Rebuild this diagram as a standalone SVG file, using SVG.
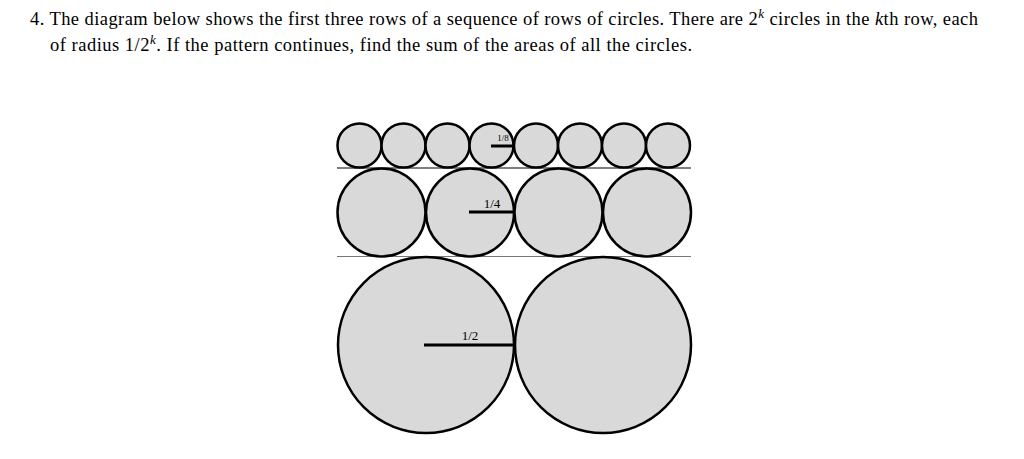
<svg xmlns="http://www.w3.org/2000/svg" width="1024" height="459" viewBox="0 0 1024 459">
<style>
.c{fill:#d9d9d9;stroke:#000;stroke-width:2.5}
.t{font-family:"Liberation Serif",serif;font-size:18.5px;fill:#000}
.l{font-family:"Liberation Serif",serif;fill:#000}
.r{stroke:#000;stroke-width:3}
</style>
<rect width="1024" height="459" fill="#fff"/>
<text class="t" x="30" y="25" textLength="948" lengthAdjust="spacing">4. The diagram below shows the first three rows of a sequence of rows of circles. There are 2<tspan dy="-7" font-size="13" font-style="italic">k</tspan><tspan dy="7"> circles in the </tspan><tspan font-style="italic">k</tspan>th row, each</text>
<text class="t" x="50" y="51" textLength="642" lengthAdjust="spacing">of radius 1/2<tspan dy="-7" font-size="13" font-style="italic">k</tspan><tspan dy="7">. If the pattern continues, find the sum of the areas of all the circles.</tspan></text>
<g id="lines">
<line x1="337" y1="168" x2="691" y2="168" stroke="#000" stroke-width="1.2"/>
<line x1="337" y1="256.5" x2="691" y2="256.5" stroke="#777" stroke-width="1.2"/>
</g>
<g id="row3">
<circle class="c" cx="359.5" cy="145.5" r="22"/><circle class="c" cx="403.5" cy="145.5" r="22"/>
<circle class="c" cx="447.5" cy="145.5" r="22"/><circle class="c" cx="491.5" cy="145.5" r="22"/>
<circle class="c" cx="536" cy="145.5" r="22"/><circle class="c" cx="580" cy="145.5" r="22"/>
<circle class="c" cx="624" cy="145.5" r="22"/><circle class="c" cx="668" cy="145.5" r="22"/>
</g>
<g id="row2">
<circle class="c" cx="381.5" cy="212.5" r="44"/><circle class="c" cx="470" cy="212.5" r="44"/>
<circle class="c" cx="558.5" cy="212.5" r="44"/><circle class="c" cx="647" cy="212.5" r="44"/>
</g>
<g id="row1">
<circle class="c" cx="426" cy="345" r="88"/><circle class="c" cx="603" cy="345" r="88"/>
</g>
<g id="radii">
<line class="r" x1="491" y1="146" x2="514" y2="146"/>
<text class="l" x="503" y="141" font-size="9" text-anchor="middle">1/8</text>
<line class="r" x1="469" y1="212" x2="514" y2="212"/>
<text class="l" x="492" y="208" font-size="13" text-anchor="middle">1/4</text>
<line class="r" x1="424" y1="345" x2="514" y2="345"/>
<text class="l" x="470" y="340" font-size="13" text-anchor="middle">1/2</text>
</g>
</svg>
